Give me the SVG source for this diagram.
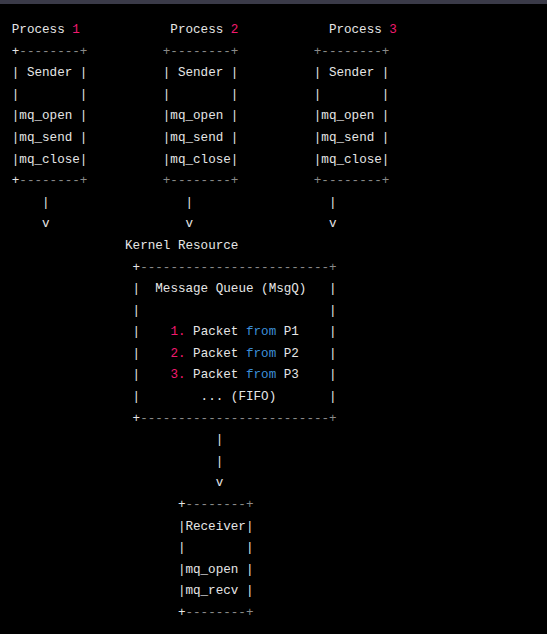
<svg xmlns="http://www.w3.org/2000/svg" width="547" height="634" viewBox="0 0 547 634">
<style>
text{font-family:"Liberation Mono","DejaVu Sans Mono",monospace;font-size:12.6px;fill:#e6e6e6;white-space:pre}
.c{fill:#8a8a8a}
.n{fill:#f01a6e}
.k{fill:#3d8fd8}
</style>
<rect width="547" height="634" fill="#000"/>
<rect width="547" height="4" fill="#3a3a48"/>
<g id="process1">
<text x="11.8" y="33" xml:space="preserve">Process <tspan class="n">1</tspan></text>
<text x="11.8" y="54.6" xml:space="preserve">+<tspan class="c">--------+</tspan></text>
<text x="11.8" y="76.2" xml:space="preserve">| Sender |</text>
<text x="11.8" y="97.8" xml:space="preserve">|        |</text>
<text x="11.8" y="119.4" xml:space="preserve">|mq_open |</text>
<text x="11.8" y="140.9" xml:space="preserve">|mq_send |</text>
<text x="11.8" y="162.5" xml:space="preserve">|mq_close|</text>
<text x="11.8" y="184.1" xml:space="preserve">+<tspan class="c">--------+</tspan></text>
</g>
<g id="process2">
<text x="170.35" y="33" xml:space="preserve">Process <tspan class="n">2</tspan></text>
<text x="162.8" y="54.6" class="c" xml:space="preserve">+--------+</text>
<text x="162.8" y="76.2" xml:space="preserve">| Sender |</text>
<text x="162.8" y="97.8" xml:space="preserve">|        |</text>
<text x="162.8" y="119.4" xml:space="preserve">|mq_open |</text>
<text x="162.8" y="140.9" xml:space="preserve">|mq_send |</text>
<text x="162.8" y="162.5" xml:space="preserve">|mq_close|</text>
<text x="162.8" y="184.1" class="c" xml:space="preserve">+--------+</text>
</g>
<g id="process3">
<text x="328.9" y="33" xml:space="preserve">Process <tspan class="n">3</tspan></text>
<text x="313.8" y="54.6" class="c" xml:space="preserve">+--------+</text>
<text x="313.8" y="76.2" xml:space="preserve">| Sender |</text>
<text x="313.8" y="97.8" xml:space="preserve">|        |</text>
<text x="313.8" y="119.4" xml:space="preserve">|mq_open |</text>
<text x="313.8" y="140.9" xml:space="preserve">|mq_send |</text>
<text x="313.8" y="162.5" xml:space="preserve">|mq_close|</text>
<text x="313.8" y="184.1" class="c" xml:space="preserve">+--------+</text>
</g>
<g id="kernel">
<text x="125.05" y="248.9" xml:space="preserve">Kernel Resource</text>
<text x="132.6" y="270.5" xml:space="preserve">+<tspan class="c">-------------------------+</tspan></text>
<text x="132.6" y="292.1" xml:space="preserve">|  Message Queue (MsgQ)   |</text>
<text x="132.6" y="313.7" xml:space="preserve">|                         |</text>
<text x="132.6" y="335.3" xml:space="preserve">|    <tspan class="n">1.</tspan> Packet <tspan class="k">from</tspan> P1    |</text>
<text x="132.6" y="356.9" xml:space="preserve">|    <tspan class="n">2.</tspan> Packet <tspan class="k">from</tspan> P2    |</text>
<text x="132.6" y="378.4" xml:space="preserve">|    <tspan class="n">3.</tspan> Packet <tspan class="k">from</tspan> P3    |</text>
<text x="132.6" y="400" xml:space="preserve">|        ... (FIFO)       |</text>
<text x="132.6" y="421.6" xml:space="preserve">+<tspan class="c">-------------------------+</tspan></text>
</g>
<g id="receiver">
<text x="177.9" y="508" xml:space="preserve">+<tspan class="c">--------+</tspan></text>
<text x="177.9" y="529.6" xml:space="preserve">|Receiver|</text>
<text x="177.9" y="551.2" xml:space="preserve">|        |</text>
<text x="177.9" y="572.8" xml:space="preserve">|mq_open |</text>
<text x="177.9" y="594.3" xml:space="preserve">|mq_recv |</text>
<text x="177.9" y="615.9" xml:space="preserve">+<tspan class="c">--------+</tspan></text>
</g>
<g id="connectors">
<text x="42" y="205.7">|</text>
<text x="42" y="227.3">v</text>
<text x="185.45" y="205.7">|</text>
<text x="185.45" y="227.3">v</text>
<text x="328.9" y="205.7">|</text>
<text x="328.9" y="227.3">v</text>
<text x="215.65" y="443.2">|</text>
<text x="215.65" y="464.8">|</text>
<text x="215.65" y="486.4">v</text>
</g>
</svg>
